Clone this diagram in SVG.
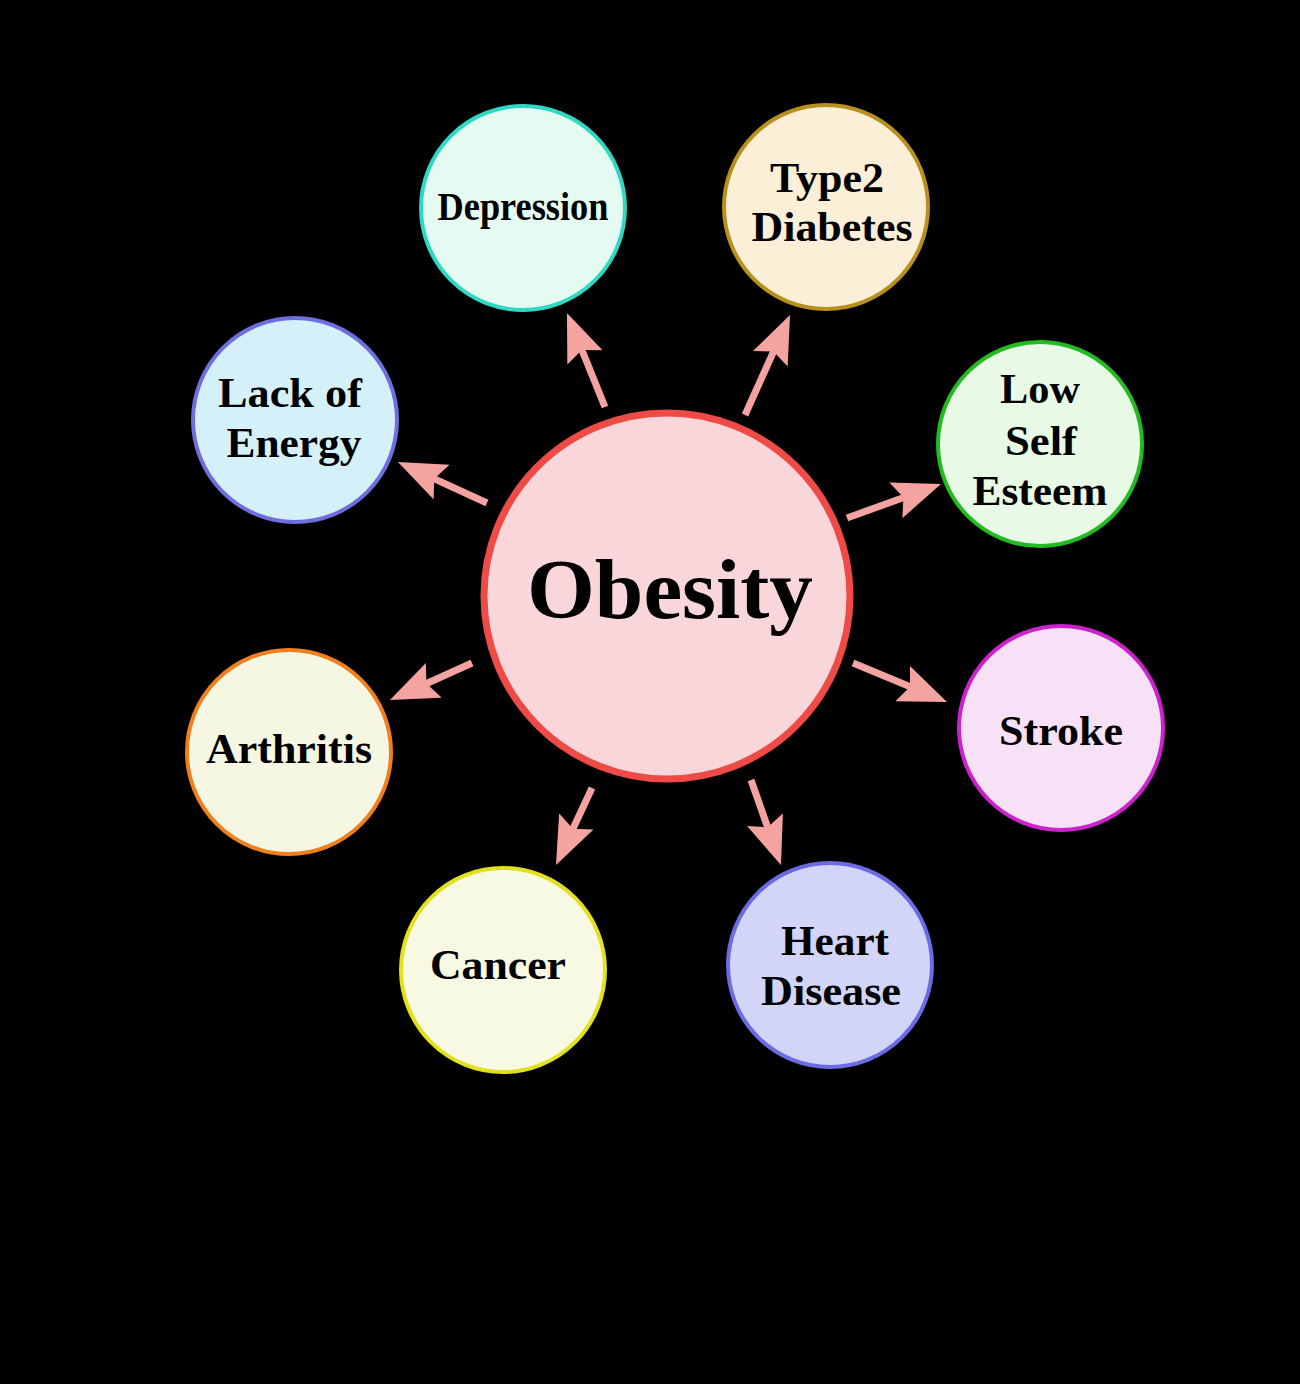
<svg xmlns="http://www.w3.org/2000/svg" width="1300" height="1384" viewBox="0 0 1300 1384">
<style>
.bg{fill:#000}
.n{stroke-width:4}
.lbl{font-family:"Liberation Serif","Times New Roman",serif;font-weight:bold;font-size:42px;fill:#000;text-anchor:middle}
.sm{font-size:39px}
.main{font-size:84px}
.arr{stroke:#F4A3A0;stroke-width:7;fill:none}
</style>
<defs>
<marker id="ah" markerUnits="userSpaceOnUse" markerWidth="50" markerHeight="40" viewBox="0 0 50 40" refX="18" refY="19" orient="auto">
<path d="M0,0 L48,19 L0,38 L8,19 z" fill="#F4A3A0"/>
</marker>
</defs>
<rect class="bg" x="0" y="0" width="1300" height="1384"/>
<g id="connectors">
<line class="arr" x1="605" y1="407" x2="578.2" y2="340.8" marker-end="url(#ah)"/>
<line class="arr" x1="745" y1="415" x2="777.7" y2="342.4" marker-end="url(#ah)"/>
<line class="arr" x1="487" y1="503" x2="425.2" y2="474.6" marker-end="url(#ah)"/>
<line class="arr" x1="847" y1="518" x2="912.8" y2="494.2" marker-end="url(#ah)"/>
<line class="arr" x1="472" y1="663" x2="417.3" y2="687.7" marker-end="url(#ah)"/>
<line class="arr" x1="853" y1="663" x2="919.3" y2="690.5" marker-end="url(#ah)"/>
<line class="arr" x1="592" y1="788" x2="568.7" y2="837.8" marker-end="url(#ah)"/>
<line class="arr" x1="751" y1="780" x2="771" y2="836.7" marker-end="url(#ah)"/>
</g>
<g id="obesity">
<circle cx="667" cy="596" r="183" fill="#F9D6DA" stroke="#EE4B47" stroke-width="7"/>
<text class="lbl main" x="670" y="618" textLength="286" lengthAdjust="spacingAndGlyphs">Obesity</text>
</g>
<g id="depression">
<circle class="n" cx="523" cy="208" r="102" fill="#E5FAF1" stroke="#2ED9C3"/>
<text class="lbl sm" x="523" y="220" textLength="171" lengthAdjust="spacingAndGlyphs">Depression</text>
</g>
<g id="diabetes">
<circle class="n" cx="826" cy="207" r="102" fill="#FCEFD7" stroke="#B8901E"/>
<text class="lbl" x="827" y="192" textLength="114" lengthAdjust="spacingAndGlyphs">Type2</text>
<text class="lbl" x="832" y="241" textLength="161" lengthAdjust="spacingAndGlyphs">Diabetes</text>
</g>
<g id="energy">
<circle class="n" cx="295" cy="420" r="102" fill="#D4F1F9" stroke="#6E6EDE"/>
<text class="lbl" x="290" y="407" textLength="144" lengthAdjust="spacingAndGlyphs">Lack of</text>
<text class="lbl" x="294" y="457" textLength="135" lengthAdjust="spacingAndGlyphs">Energy</text>
</g>
<g id="esteem">
<circle class="n" cx="1040" cy="444" r="102" fill="#E8F9E6" stroke="#22BB22"/>
<text class="lbl" x="1040" y="403" textLength="80" lengthAdjust="spacingAndGlyphs">Low</text>
<text class="lbl" x="1041" y="455" textLength="72" lengthAdjust="spacingAndGlyphs">Self</text>
<text class="lbl" x="1040" y="505" textLength="135" lengthAdjust="spacingAndGlyphs">Esteem</text>
</g>
<g id="arthritis">
<circle class="n" cx="289" cy="752" r="102" fill="#F6F7E2" stroke="#F07F1E"/>
<text class="lbl" x="289" y="763" textLength="166" lengthAdjust="spacingAndGlyphs">Arthritis</text>
</g>
<g id="stroke">
<circle class="n" cx="1061" cy="728" r="102" fill="#F7E1F7" stroke="#CC22CC"/>
<text class="lbl" x="1061" y="745" textLength="124" lengthAdjust="spacingAndGlyphs">Stroke</text>
</g>
<g id="cancer">
<circle class="n" cx="503" cy="970" r="102" fill="#F8F9E2" stroke="#E3E01C"/>
<text class="lbl" x="498" y="979" textLength="136" lengthAdjust="spacingAndGlyphs">Cancer</text>
</g>
<g id="heart">
<circle class="n" cx="830" cy="965" r="102" fill="#D2D4F8" stroke="#6B6BE3"/>
<text class="lbl" x="835" y="955" textLength="108" lengthAdjust="spacingAndGlyphs">Heart</text>
<text class="lbl" x="831" y="1005" textLength="140" lengthAdjust="spacingAndGlyphs">Disease</text>
</g>
</svg>
